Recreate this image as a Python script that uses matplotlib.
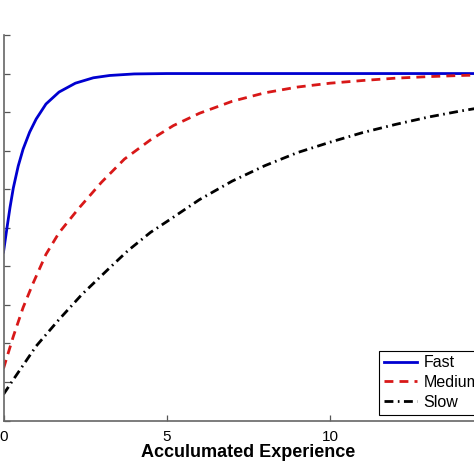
import numpy as np
import matplotlib
matplotlib.use("Agg")
import matplotlib.pyplot as plt

# values
x_fast = [0, 0.1, 0.2, 0.3, 0.45, 0.6, 0.8, 1.0, 1.3, 1.7, 2.2, 2.75, 3.25, 4, 5, 6, 8, 10, 12, 15]
fast = [0.437, 0.496, 0.553, 0.603, 0.66, 0.704, 0.748, 0.782, 0.821, 0.852, 0.875, 0.889,
        0.895, 0.899, 0.9, 0.9, 0.9, 0.9, 0.9, 0.9]

x_med = [0, 0.3, 0.6, 0.9, 1.3, 1.7, 2.3, 3, 3.7, 4.5, 5.2, 6, 7, 8, 9, 10, 11, 12, 13, 14, 15]
medium = [0.135, 0.218, 0.293, 0.355, 0.431, 0.487, 0.55, 0.618, 0.678, 0.728, 0.765, 0.797,
          0.828, 0.85, 0.865, 0.875, 0.882, 0.888, 0.892, 0.895, 0.897]

x_slow = [0, 0.3, 1, 1.7, 2.4, 3.2, 3.8, 4.5, 5, 6, 7, 8, 9, 10, 11, 12, 13, 14, 15]
slow = [0.068, 0.106, 0.193, 0.262, 0.327, 0.392, 0.44, 0.488, 0.516, 0.573, 0.621,
        0.661, 0.695, 0.722, 0.747, 0.768, 0.787, 0.803, 0.817]

labels = ["Fast", "Medium", "Slow"]

plt.rcParams['font.family'] = ['Liberation Sans', 'DejaVu Sans']

fig = plt.figure(figsize=(4.74, 4.74), dpi=100)
# the original figure is cropped: axes run past the left and right edges
ax = fig.add_axes([3.5 / 474, 53.5 / 474, 490 / 474, 385.5 / 474])

ax.plot(x_fast, fast, color='#0000d0', lw=2.0, label=labels[0])
ax.plot(x_med, medium, color='#d81818', lw=2.0, ls=(0, (3.2, 2.2)), label=labels[1])
ax.plot(x_slow, slow, color='black', lw=2.0, ls=(0, (3.2, 1.6, 0.6, 1.6)), label=labels[2])

ax.set_xlim(0, 15)
ax.set_ylim(0, 1)
ax.set_xticks([0, 5, 10, 15])
ax.set_yticks(np.arange(0, 1.01, 0.1))
ax.tick_params(direction='in', length=4, width=0.9, color='#555555', labelsize=11, pad=7)
# y tick labels fall outside the cropped picture
ax.tick_params(axis='y', labelleft=False)
for s in ['top', 'right']:
    ax.spines[s].set_visible(False)
for s in ['left', 'bottom']:
    ax.spines[s].set_color('#666666')
    ax.spines[s].set_linewidth(1.2)

ax.set_xlabel('Acculumated Experience', fontsize=13, fontweight='bold', labelpad=0)

leg = ax.legend(loc='upper left', bbox_to_anchor=(379 / 474, 1 - 350.5 / 474),
                bbox_transform=fig.transFigure, borderaxespad=0, fancybox=False,
                framealpha=1, edgecolor='black', fontsize=11.5, handlelength=2.1,
                handletextpad=0.4, labelspacing=0.3, borderpad=0.3)
leg.get_frame().set_linewidth(0.8)

fig.savefig('out.png', dpi=100)
